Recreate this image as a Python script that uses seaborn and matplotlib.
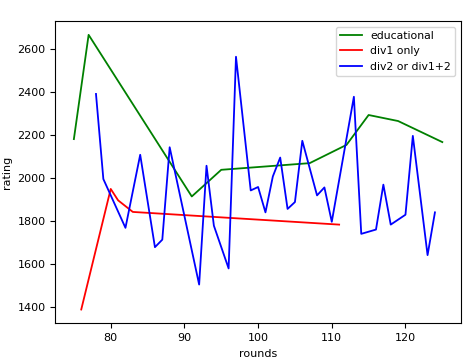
import seaborn as sns
import pandas as pd
import numpy as np
import matplotlib.pyplot as plt

# rounds / rating per contest type
edu_x = [75, 77, 91, 95, 107, 112, 115, 119, 125]
edu_y = [2180, 2665, 1913, 2037, 2068, 2153, 2292, 2264, 2166]

div1_x = [76, 80, 81, 83, 111]
div1_y = [1387, 1948, 1895, 1841, 1782]

div2_x = [78, 79, 82, 84, 86, 87, 88, 92, 93, 94, 96, 97, 99, 100, 101, 102,
          103, 104, 105, 106, 108, 109, 110, 113, 114, 116, 117, 118, 120, 121,
          123, 124]
div2_y = [2390, 1994, 1767, 2107, 1677, 1712, 2142, 1503, 2056, 1777, 1578,
          2563, 1941, 1957, 1839, 2006, 2094, 1855, 1887, 2172, 1918, 1955,
          1795, 2377, 1739, 1759, 1968, 1782, 1828, 2195, 1640, 1839]

plt.rcParams['font.size'] = 8

fig = plt.figure(figsize=(4.74, 3.64), dpi=100)
ax = fig.add_axes([0.117, 0.112, 0.855, 0.830])

sns.lineplot(x=edu_x, y=edu_y, color='green', lw=1.3, label='educational', ax=ax)
sns.lineplot(x=div1_x, y=div1_y, color='red', lw=1.3, label='div1 only', ax=ax)
sns.lineplot(x=div2_x, y=div2_y, color='blue', lw=1.3, label='div2 or div1+2', ax=ax)

ax.set_xlabel('rounds')
ax.set_ylabel('rating')
ax.legend(loc='upper right', fontsize=7.8)

fig.savefig('out.png', dpi=100)
